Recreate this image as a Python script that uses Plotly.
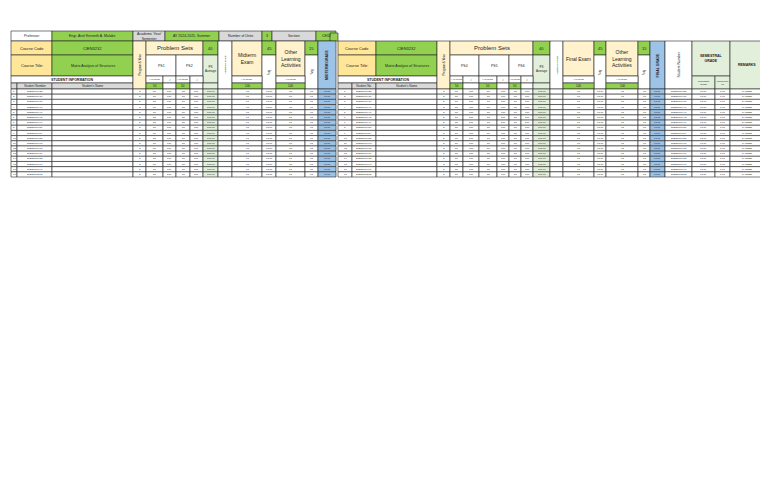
import plotly.graph_objects as go

# ---- data read from the sheet ----
row_no = list(range(1, 18))
student_numbers = ["2022101" + s for s in ["0428", "0436", "0437", "0440", "0441", "0448", "0449", "0450",
                                            "0454", "0455", "0463", "0465", "0470", "0482", "0490", "0496", "0512"]]
prog_year = [2] * 17
ps1 = [50] * 17
ps2 = [50] * 17
ps3 = [50] * 17
ps_avg = ["100.00"] * 17
midterm = [98] * 17
final_exam = [98] * 17
other = [95] * 17
midterm_grade = ["98.00"] * 17
final_grade = ["98.00"] * 17
sem_grade = ["98.00"] * 17
numerical = ["1.00"] * 17
remarks = ["PASSED"] * 17

GREEN = "#92D050"
YEL = "#FFF2CC"
ORG = "#FFE699"
LGR = "#E2EFDA"
BLUE = "#9DC3E6"
GRAY = "#D9D9D9"

fig = go.Figure()
shapes, anns = [], []


def cell(x0, x1, y0, y1, fill="white", text="", size=4, angle=0, bold=False, lw=0.6):
    shapes.append(dict(type="rect", xref="x", yref="y", x0=x0, x1=x1, y0=y0, y1=y1,
                       fillcolor=fill, line=dict(color="#222", width=lw), layer="below"))
    if text != "":
        t = f"<b>{text}</b>" if bold else str(text)
        anns.append(dict(x=(x0 + x1) / 2, y=(y0 + y1) / 2, xref="x", yref="y", text=t,
                         showarrow=False, textangle=angle, font=dict(size=size, color="#222")))


# top info row
top = [(11, 52, "Professor:", "white"), (52, 133, "Engr. Ariel Kenneth A. Malabe", GREEN),
       (133, 165, "Academic Year/<br>Semester", GRAY), (165, 219, "AY 2024-2025, Summer", GREEN),
       (219, 262, "Number of Units", GRAY), (262, 272, "3", GREEN), (272, 316, "Section", GRAY),
       (316, 336, "CE32", GREEN)]
for x0, x1, t, f in top:
    cell(x0, x1, 31, 41, f, t, 3.5)
cell(330, 338, 33, 41, GREEN, "", 3)

r1, r2, r3, r4, r5 = 41, 55, 76, 83, 89
rows_y = [r5 + i * (177 - r5) / 17 for i in range(18)]


def block(xb, final):
    cell(xb["a"], xb["b"], r1, r2, ORG, "Course Code", 4)
    cell(xb["b"], xb["p"], r1, r2, GREEN, "CIEN3232", 4)
    cell(xb["a"], xb["b"], r2, r3, ORG, "Course Title:", 4)
    cell(xb["b"], xb["p"], r2, r3, GREEN, "Matrix Analysis of Structures", 3.5)
    cell(xb["a"], xb["p"], r3, r4, "white", "STUDENT INFORMATION", 3.5, bold=True)
    cell(xb["a"], xb["i"], r4, r5, GRAY, "", 3)
    cell(xb["i"], xb["b"], r4, r5, GRAY, "Student Number" if not final else "Student No.", 3)
    cell(xb["b"], xb["p"], r4, r5, GRAY, "Student's Name", 3)
    cell(xb["p"], xb["ps"], r1, r5, YEL, "Program & Year", 3, angle=-90)
    ps_cols = xb["pscols"]
    cell(xb["ps"], xb["avg"], r1, r2, YEL, "Problem Sets", 6)
    cell(xb["avg"], xb["add"], r1, r2, GREEN, "40", 4)
    for k in range(len(ps_cols) - 1):
        c0, c1 = ps_cols[k], ps_cols[k + 1]
        cell(c0, c1, r2, r3, "white", f"PS{k + 1}" if not final else f"PS{k + 4}", 3.5)
    cell(xb["avg"], xb["add"], r2, r4, LGR, "PS<br>Average", 3)
    for k in range(len(ps_cols) - 1):
        c0, c1 = ps_cols[k], ps_cols[k + 1]
        sub = xb["pssub"][k]
        cell(c0, sub, r3, r4, "white", "# of items", 2.5)
        cell(sub, c1, r3, r4, "white", "√", 3)
        cell(c0, sub, r4, r5, GREEN, "50", 3)
        cell(sub, c1, r4, r5, "white", "", 3)
    cell(xb["avg"], xb["add"], r4, r5, LGR, "", 3)
    cell(xb["add"], xb["ex"], r1, r5, "white", "Additional Points", 2.5, angle=-90)
    cell(xb["ex"], xb["exp"], r1, r3, YEL, "Final Exam" if final else "Midterm<br>Exam", 5)
    cell(xb["exp"], xb["ot"], r1, r2, GREEN, "45", 4)
    cell(xb["exp"], xb["ot"], r2, r5, "white", "%tg", 3, angle=-90)
    cell(xb["ex"], xb["exp"], r3, r4, "white", "# of items", 2.5)
    cell(xb["ex"], xb["exp"], r4, r5, GREEN, "100", 3)
    cell(xb["ot"], xb["otp"], r1, r3, YEL, "Other<br>Learning<br>Activities", 5)
    cell(xb["otp"], xb["g"], r1, r2, GREEN, "15", 4)
    cell(xb["otp"], xb["g"], r2, r5, "white", "%tg", 3, angle=-90)
    cell(xb["ot"], xb["otp"], r3, r4, "white", "# of items", 2.5)
    cell(xb["ot"], xb["otp"], r4, r5, GREEN, "100", 3)
    cell(xb["g"], xb["ge"], r1, r5, BLUE, "FINAL GRADE" if final else "MIDTERM GRADE", 3.5,
         angle=-90, bold=True)

    for i in range(17):
        y0, y1 = rows_y[i], rows_y[i + 1]
        cell(xb["a"], xb["i"], y0, y1, "white", row_no[i], 2.5)
        cell(xb["i"], xb["b"], y0, y1, "white", student_numbers[i], 2.5)
        cell(xb["b"], xb["p"], y0, y1, "white", "", 2.5)
        cell(xb["p"], xb["ps"], y0, y1, "white", prog_year[i], 2.5)
        vals = [ps1[i], ps2[i], ps3[i]]
        for k in range(len(ps_cols) - 1):
            sub = xb["pssub"][k]
            cell(ps_cols[k], sub, y0, y1, "white", vals[k], 2.5)
            cell(sub, ps_cols[k + 1], y0, y1, "white", f"{vals[k] * 2}", 2.5)
        cell(xb["avg"], xb["add"], y0, y1, LGR, ps_avg[i], 2.5)
        cell(xb["add"], xb["ex"], y0, y1, "white", "", 2.5)
        ex = final_exam[i] if final else midterm[i]
        cell(xb["ex"], xb["exp"], y0, y1, "white", ex, 2.5)
        cell(xb["exp"], xb["ot"], y0, y1, "white", f"{ex:.2f}", 2.5)
        cell(xb["ot"], xb["otp"], y0, y1, "white", other[i], 2.5)
        cell(xb["otp"], xb["g"], y0, y1, "white", other[i], 2.5)
        cell(xb["g"], xb["ge"], y0, y1, BLUE, final_grade[i] if final else midterm_grade[i], 2.5)


block(dict(a=11, i=17, b=52, p=133, ps=146, pscols=[146, 176, 203], pssub=[163, 190],
           avg=203, add=218, ex=232, exp=262, ot=276, otp=305, g=318, ge=336), False)
block(dict(a=338, i=352, b=376, p=437, ps=450, pscols=[450, 479, 509, 533], pssub=[463, 497, 521],
           avg=533, add=550, ex=563, exp=594, ot=606, otp=638, g=650, ge=665), True)

cell(665, 692, r1, r5, "white", "Student Number", 3.5, angle=-90)
cell(692, 730, r1, r3, LGR, "SEMESTRAL<br>GRADE", 3.5, bold=True)
cell(692, 715, r3, r5, LGR, "Semestral<br>Grade", 2.5)
cell(715, 730, r3, r5, LGR, "Numerical<br>ca", 2.5)
cell(730, 763, r1, r5, LGR, "REMARKS", 3.5, bold=True)
for i in range(17):
    y0, y1 = rows_y[i], rows_y[i + 1]
    cell(665, 692, y0, y1, "white", student_numbers[i], 2.5)
    cell(692, 715, y0, y1, "white", sem_grade[i], 2.5)
    cell(715, 730, y0, y1, "white", numerical[i], 2.5)
    cell(730, 763, y0, y1, "white", remarks[i], 2.5)

# page is offset by the browser's default 8px body margin
fig.update_layout(
    width=760, height=489, margin=dict(l=0, r=0, t=0, b=0),
    plot_bgcolor="white", paper_bgcolor="white", showlegend=False,
    xaxis=dict(range=[8, 768], visible=False, fixedrange=True),
    yaxis=dict(range=[497, 8], visible=False, fixedrange=True),
    shapes=shapes, annotations=anns,
    font=dict(family="Liberation Sans, Arial"),
)
fig.write_html("out.html")
